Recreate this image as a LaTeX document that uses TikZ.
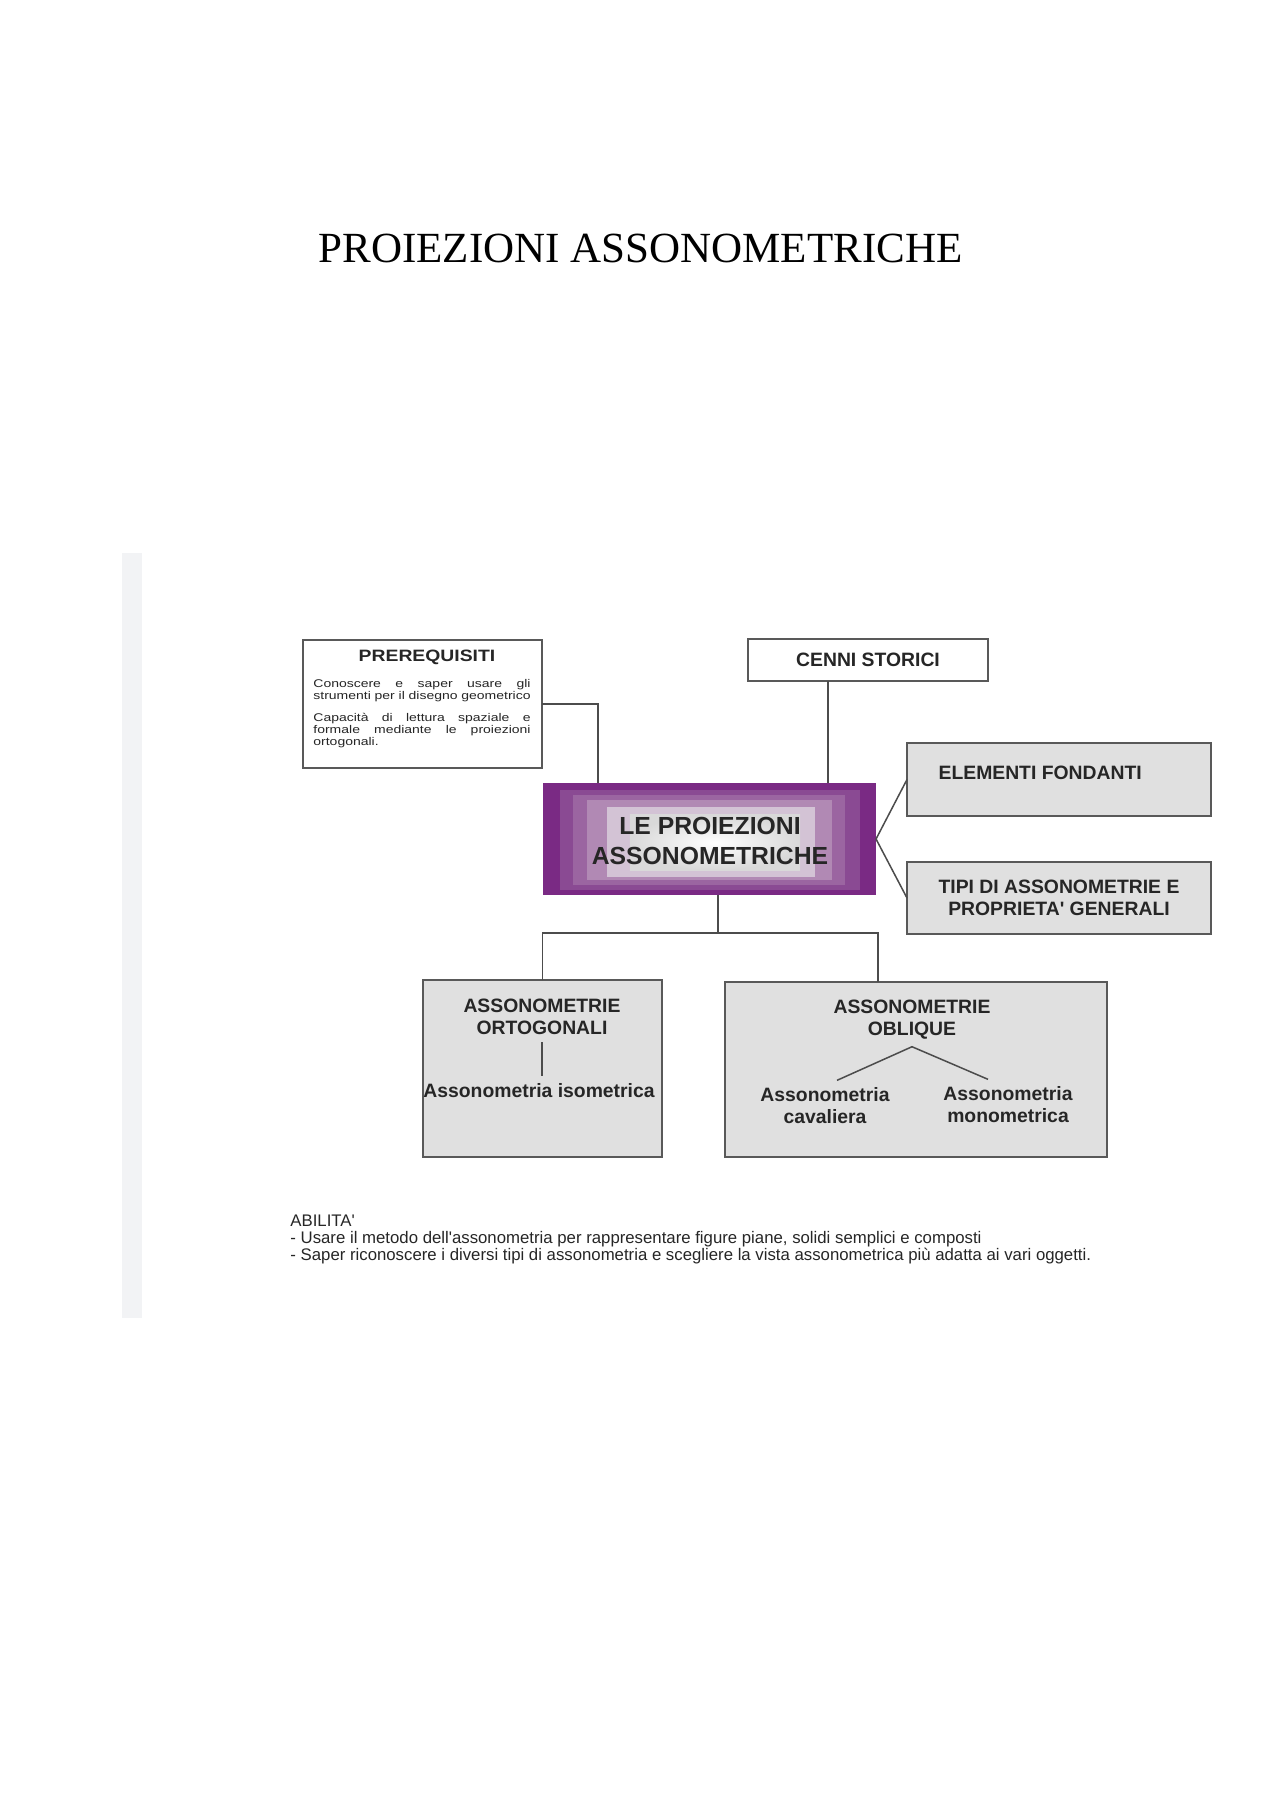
\documentclass[tikz,border=0pt]{standalone}
\usepackage{fontspec}
\usepackage{graphicx}
\usetikzlibrary{calc}
\setmainfont{Liberation Serif}
\newfontfamily\arialfont{Liberation Sans}
\definecolor{viola}{HTML}{7A2A84}
\definecolor{violaA}{HTML}{8A4A93}
\definecolor{violaB}{HTML}{9B65A1}
\definecolor{violaC}{HTML}{B189B4}
\definecolor{violaD}{HTML}{D3C3D5}
\definecolor{barcolor}{HTML}{F2F3F5}

\begin{document}
\begin{tikzpicture}[x=0.4651pt,y=-0.4651pt,
    box/.style={draw=black!65, line width=0.9pt, inner sep=0pt, outer sep=0pt},
    greybox/.style={box, fill=black!12},
    link/.style={draw=black!70, line width=0.7pt},
    head/.style={font=\arialfont\bfseries\fontsize{9}{10.2}\selectfont, text=black!85, align=center}]
            \useasboundingbox (0,0) rectangle (1280,1811);

            \node[anchor=base, font=\fontsize{20}{24}\selectfont] (title) at (640.5,263) {PROIEZIONI ASSONOMETRICHE};
            \fill[barcolor] (122,553) rectangle (142,1318);

            % prerequisiti
            \node[box, fill=white, minimum width=111.2pt, minimum height=59.5pt] (prereq) at (422.5,704) {};
            \node[head] (prereqtitle) at (427,657) {\scalebox{1}[0.85]{PREREQUISITI}};
            \node[anchor=north west, inner sep=0pt, text=black!85, font=\arialfont\fontsize{6.5}{7}\selectfont] (prereqtext) at (313,679) {\scalebox{1}[0.8]{\parbox{101pt}{%
                \makebox[\linewidth][s]{Conoscere e saper usare gli}\\
                \makebox[\linewidth][s]{strumenti per il disegno geometrico}\\[5.5pt]
                \makebox[\linewidth][s]{Capacità di lettura spaziale e}\\
                \makebox[\linewidth][s]{formale mediante le proiezioni}\\
                ortogonali.}}};

            % cenni storici
            \node[box, fill=white, head, minimum width=111.6pt, minimum height=19.5pt] (cenni) at (868,660) {CENNI STORICI};

            % nodo centrale
            \node[fill=viola, inner sep=0pt, outer sep=0pt, minimum width=154.9pt, minimum height=52.1pt] (central) at (709.5,839) {};
            \fill[violaA] ([shift={(17,7)}]central.north west) rectangle ([shift={(-16,-5)}]central.south east);
            \fill[violaB] ([shift={(30,12)}]central.north west) rectangle ([shift={(-31,-10)}]central.south east);
            \fill[violaC] ([shift={(44,17)}]central.north west) rectangle ([shift={(-44,-15)}]central.south east);
            \fill[violaD] ([shift={(64,24)}]central.north west) rectangle ([shift={(-61,-18)}]central.south east);
            \shade[inner color=white, outer color=black!15] ([shift={(87,32)}]central.north west) rectangle ([shift={(-76,-25)}]central.south east);
            \node[font=\arialfont\bfseries\fontsize{11.5}{14.4}\selectfont, align=center, text=black!85] (centraltext) at (710,841) {LE PROIEZIONI\\ASSONOMETRICHE};

            % riquadri a destra
            \node[greybox, minimum width=141.4pt, minimum height=34pt] (elementi) at (1059,779.5) {};
            \node[head, anchor=west] (elementitext) at (931,773) {ELEMENTI FONDANTI};
            \node[greybox, head, minimum width=141.4pt, minimum height=33.5pt] (tipi) at (1059,898) {TIPI DI ASSONOMETRIE E\\PROPRIETA' GENERALI};

            % assonometrie ortogonali
            \node[greybox, minimum width=111.2pt, minimum height=82.3pt] (orto) at (542.5,1068.5) {};
            \node[head] (ortotitle) at (542,1017) {ASSONOMETRIE\\ORTOGONALI};
            \node[head] (iso) at (539,1091) {Assonometria isometrica};

            % assonometrie oblique
            \node[greybox, minimum width=177.7pt, minimum height=81.4pt] (oblique) at (916,1069.5) {};
            \node[head] (obltitle) at (912,1019.5) {ASSONOMETRIE\\OBLIQUE};
            \node[head] (cav) at (825,1106) {Assonometria\\cavaliera};
            \node[head] (mono) at (1008,1105) {Assonometria\\monometrica};

            \node[anchor=north west, inner sep=0pt, align=left, text=black!85, font=\arialfont\fontsize{7.8}{7.9}\selectfont] (abilita) at (290,1215) {ABILITA'\\- Usare il metodo dell'assonometria per rappresentare figure piane, solidi semplici e composti\\- Saper riconoscere i diversi tipi di assonometria e scegliere la vista assonometrica più adatta ai vari oggetti.};

            \coordinate (prereqdrop) at ($(central.north west)!0.165!(central.north east)$);
            \coordinate (cennidrop) at ($(cenni.south west)!0.333!(cenni.south east)$);
            \coordinate (stub) at ($(central.south west)!0.525!(central.south east)$);
            \coordinate (obldrop) at ($(oblique.north west)!0.4!(oblique.north east)$);

            \draw[link] (prereq.east) -| (prereqdrop); % prereq-central
            \draw[link] (cennidrop) -- (cennidrop |- central.north); % cenni-central
            \draw[link] (elementi.west) -- (central.east) -- (tipi.west);
            \draw[link] (stub) -- ++(0,38) coordinate (fork);
            \draw[link] (orto.north) |- (fork) -| (obldrop);
            \draw[link] (ortotitle.south) -- (ortotitle.south |- iso.north);
            \draw[link] ([shift={(12,0)}]cav.north) -- (obltitle.south) -- ([shift={(-20,0)}]mono.north);
        \end{tikzpicture}
\end{document}
